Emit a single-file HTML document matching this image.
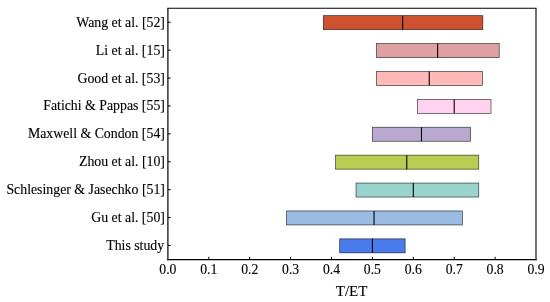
<!DOCTYPE html>
<html><head><meta charset="utf-8"><title>T/ET</title>
<style>
html,body{margin:0;padding:0;background:#fff;}
body{width:550px;height:302px;overflow:hidden;}
svg{display:block;}
text{font-family:"Liberation Serif",serif;fill:#000;stroke:#000;stroke-width:0.12px;}
</style></head><body>
<svg width="550" height="302" viewBox="0 0 550 302">
<rect width="550" height="302" fill="#fff"/>

<rect x="323.32" y="15.65" width="159.51" height="14.00" fill="#cf5230" stroke="#000" stroke-opacity="0.75" stroke-width="0.7"/>
<line x1="402.67" y1="15.65" x2="402.67" y2="29.65" stroke="#000" stroke-width="1.1"/>
<line x1="167.90" y1="22.25" x2="170.70" y2="22.25" stroke="#000" stroke-width="1"/>
<text transform="translate(164.90,26.70) scale(1.01,1)" font-size="13.7" text-anchor="end">Wang et al. [52]</text>
<rect x="376.49" y="43.55" width="122.70" height="14.00" fill="#e0a0a2" stroke="#000" stroke-opacity="0.75" stroke-width="0.7"/>
<line x1="437.64" y1="43.55" x2="437.64" y2="57.55" stroke="#000" stroke-width="1.1"/>
<line x1="167.90" y1="50.15" x2="170.70" y2="50.15" stroke="#000" stroke-width="1"/>
<text transform="translate(164.90,54.60) scale(1.01,1)" font-size="13.7" text-anchor="end">Li et al. [15]</text>
<rect x="376.49" y="71.45" width="105.93" height="14.00" fill="#ffb9b9" stroke="#000" stroke-opacity="0.75" stroke-width="0.7"/>
<line x1="429.25" y1="71.45" x2="429.25" y2="85.45" stroke="#000" stroke-width="1.1"/>
<line x1="167.90" y1="78.05" x2="170.70" y2="78.05" stroke="#000" stroke-width="1"/>
<text transform="translate(164.90,82.50) scale(1.01,1)" font-size="13.7" text-anchor="end">Good et al. [53]</text>
<rect x="417.39" y="99.35" width="73.62" height="14.00" fill="#ffd2ef" stroke="#000" stroke-opacity="0.75" stroke-width="0.7"/>
<line x1="454.20" y1="99.35" x2="454.20" y2="113.35" stroke="#000" stroke-width="1.1"/>
<line x1="167.90" y1="105.95" x2="170.70" y2="105.95" stroke="#000" stroke-width="1"/>
<text transform="translate(164.90,110.40) scale(1.01,1)" font-size="13.7" text-anchor="end">Fatichi &amp; Pappas [55]</text>
<rect x="372.40" y="127.25" width="98.16" height="14.00" fill="#b9a9d0" stroke="#000" stroke-opacity="0.75" stroke-width="0.7"/>
<line x1="421.48" y1="127.25" x2="421.48" y2="141.25" stroke="#000" stroke-width="1.1"/>
<line x1="167.90" y1="133.85" x2="170.70" y2="133.85" stroke="#000" stroke-width="1"/>
<text transform="translate(164.90,138.30) scale(1.01,1)" font-size="13.7" text-anchor="end">Maxwell &amp; Condon [54]</text>
<rect x="335.59" y="155.15" width="143.15" height="14.00" fill="#b9cd52" stroke="#000" stroke-opacity="0.75" stroke-width="0.7"/>
<line x1="406.76" y1="155.15" x2="406.76" y2="169.15" stroke="#000" stroke-width="1.1"/>
<line x1="167.90" y1="161.75" x2="170.70" y2="161.75" stroke="#000" stroke-width="1"/>
<text transform="translate(164.90,166.20) scale(1.01,1)" font-size="13.7" text-anchor="end">Zhou et al. [10]</text>
<rect x="356.04" y="183.05" width="122.70" height="14.00" fill="#9ad2cd" stroke="#000" stroke-opacity="0.75" stroke-width="0.7"/>
<line x1="413.30" y1="183.05" x2="413.30" y2="197.05" stroke="#000" stroke-width="1.1"/>
<line x1="167.90" y1="189.65" x2="170.70" y2="189.65" stroke="#000" stroke-width="1"/>
<text transform="translate(164.90,194.10) scale(1.01,1)" font-size="13.7" text-anchor="end">Schlesinger &amp; Jasechko [51]</text>
<rect x="286.51" y="210.95" width="175.87" height="14.00" fill="#9abbe2" stroke="#000" stroke-opacity="0.75" stroke-width="0.7"/>
<line x1="374.04" y1="210.95" x2="374.04" y2="224.95" stroke="#000" stroke-width="1.1"/>
<line x1="167.90" y1="217.55" x2="170.70" y2="217.55" stroke="#000" stroke-width="1"/>
<text transform="translate(164.90,222.00) scale(1.01,1)" font-size="13.7" text-anchor="end">Gu et al. [50]</text>
<rect x="339.68" y="238.85" width="65.44" height="14.00" fill="#4a7bea" stroke="#000" stroke-opacity="0.75" stroke-width="0.7"/>
<line x1="372.40" y1="238.85" x2="372.40" y2="252.85" stroke="#000" stroke-width="1.1"/>
<line x1="167.90" y1="245.45" x2="170.70" y2="245.45" stroke="#000" stroke-width="1"/>
<text transform="translate(164.20,249.90) scale(1.01,1)" font-size="13.7" text-anchor="end">This study</text>
<line x1="167.30" y1="8.30" x2="536.50" y2="8.30" stroke="#000" stroke-width="1.05"/>
<line x1="536.00" y1="8.30" x2="536.00" y2="260.35" stroke="#000" stroke-width="1.1"/>
<line x1="167.90" y1="8.30" x2="167.90" y2="260.35" stroke="#000" stroke-width="1.2"/>
<line x1="167.30" y1="259.60" x2="536.50" y2="259.60" stroke="#000" stroke-width="1.35"/>
<text transform="translate(167.90,273.60) scale(1.0,1)" font-size="13.7" text-anchor="middle">0.0</text>
<line x1="208.80" y1="259.60" x2="208.80" y2="256.80" stroke="#000" stroke-width="1"/>
<text transform="translate(208.80,273.60) scale(1.0,1)" font-size="13.7" text-anchor="middle">0.1</text>
<line x1="249.70" y1="259.60" x2="249.70" y2="256.80" stroke="#000" stroke-width="1"/>
<text transform="translate(249.70,273.60) scale(1.0,1)" font-size="13.7" text-anchor="middle">0.2</text>
<line x1="290.60" y1="259.60" x2="290.60" y2="256.80" stroke="#000" stroke-width="1"/>
<text transform="translate(290.60,273.60) scale(1.0,1)" font-size="13.7" text-anchor="middle">0.3</text>
<line x1="331.50" y1="259.60" x2="331.50" y2="256.80" stroke="#000" stroke-width="1"/>
<text transform="translate(331.50,273.60) scale(1.0,1)" font-size="13.7" text-anchor="middle">0.4</text>
<line x1="372.40" y1="259.60" x2="372.40" y2="256.80" stroke="#000" stroke-width="1"/>
<text transform="translate(372.40,273.60) scale(1.0,1)" font-size="13.7" text-anchor="middle">0.5</text>
<line x1="413.30" y1="259.60" x2="413.30" y2="256.80" stroke="#000" stroke-width="1"/>
<text transform="translate(413.30,273.60) scale(1.0,1)" font-size="13.7" text-anchor="middle">0.6</text>
<line x1="454.20" y1="259.60" x2="454.20" y2="256.80" stroke="#000" stroke-width="1"/>
<text transform="translate(454.20,273.60) scale(1.0,1)" font-size="13.7" text-anchor="middle">0.7</text>
<line x1="495.10" y1="259.60" x2="495.10" y2="256.80" stroke="#000" stroke-width="1"/>
<text transform="translate(495.10,273.60) scale(1.0,1)" font-size="13.7" text-anchor="middle">0.8</text>
<text transform="translate(536.00,273.60) scale(1.0,1)" font-size="13.7" text-anchor="middle">0.9</text>
<text transform="translate(351.55,296.40) scale(1.03,1)" font-size="14.6" text-anchor="middle">T/ET</text>
</svg></body></html>
